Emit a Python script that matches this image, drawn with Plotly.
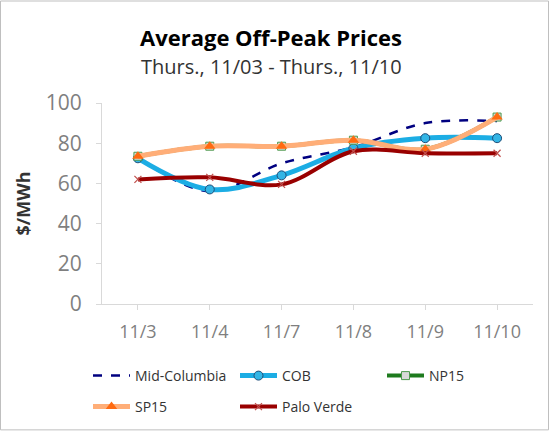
import plotly.graph_objects as go

dates = ["11/3", "11/4", "11/7", "11/8", "11/9", "11/10"]
mid_columbia = [73, 56, 70, 78, 90, 91]
cob = [72.5, 57, 64, 77.5, 82.5, 82.5]
np15 = [73.5, 78.5, 78.5, 81.5, 77, 93]
sp15 = [73.5, 78.5, 78.5, 81.5, 77, 93]
palo_verde = [62, 63, 59.5, 76, 75, 75]
y_ticks = [0, 20, 40, 60, 80, 100]

W, H = 550, 433
ML, MR, MT, MB = 102, 17, 103, 128
PW, PH = W - ML - MR, H - MT - MB

FONT = "Open Sans"


def px_x(x):
    return (x - ML) / PW


def px_y(y):
    return (MT + PH - y) / PH


fig = go.Figure()
fig.add_trace(go.Scatter(x=dates, y=mid_columbia, name="Mid-Columbia", mode="lines", legend="legend",
                         line=dict(color="#000080", width=2.5, dash="dash", shape="spline")))
fig.add_trace(go.Scatter(x=dates, y=cob, name="COB", mode="lines+markers", legend="legend",
                         line=dict(color="#1CADE4", width=5, shape="spline"),
                         marker=dict(symbol="circle", size=9, color="#33B5E5",
                                     line=dict(color="#1F4E79", width=1))))
fig.add_trace(go.Scatter(x=dates, y=np15, name="NP15", mode="lines+markers", legend="legend",
                         line=dict(color="#1E7B1E", width=4, shape="spline"),
                         marker=dict(symbol="square", size=8, color="#D9D9D9",
                                     line=dict(color="#4E9A4E", width=1))))
fig.add_trace(go.Scatter(x=dates, y=sp15, name="SP15", mode="lines+markers", legend="legend2",
                         line=dict(color="#FFAE78", width=5, shape="spline"),
                         marker=dict(symbol="triangle-up", size=10, color="#FF6A10")))
fig.add_trace(go.Scatter(x=dates, y=palo_verde, name="Palo Verde", mode="lines+markers", legend="legend2",
                         line=dict(color="#990000", width=4, shape="spline"),
                         marker=dict(symbol="x-thin", size=7, color="#990000",
                                     line=dict(color="#C0504D", width=1.2))))

legend_common = dict(
    orientation="h", xanchor="left", yanchor="middle",
    font=dict(family=FONT, size=14, color="#333333"),
    entrywidth=95, entrywidthmode="pixels", itemwidth=37,
    traceorder="normal", bgcolor="rgba(0,0,0,0)",
)

fig.update_layout(
    width=W, height=H,
    margin=dict(l=ML, r=MR, t=MT, b=MB),
    paper_bgcolor="white", plot_bgcolor="white",
    font=dict(family=FONT, color="#333333"),
    xaxis=dict(
        type="category", range=[-0.5, 5.5],
        showline=True, linecolor="#D9D9D9", linewidth=1,
        ticks="outside", ticklen=5, tickcolor="#D9D9D9",
        ticklabelstandoff=6,
        showgrid=False, zeroline=False,
        tickfont=dict(family=FONT, size=18, color="#7F7F7F"),
    ),
    yaxis=dict(
        range=[0, 100], tickvals=y_ticks,
        showline=True, linecolor="#D9D9D9", linewidth=1,
        ticks="outside", ticklen=5, tickcolor="#D9D9D9",
        ticklabelstandoff=10,
        showgrid=False, zeroline=False,
        tickfont=dict(family=FONT, size=21, color="#7F7F7F"),
        title=dict(text="<b>$/MWh</b>", font=dict(family=FONT, size=18, color="#333333"), standoff=10),
    ),
    legend=dict(x=px_x(88), y=px_y(376), **legend_common),
    legend2=dict(x=px_x(88), y=px_y(407), **legend_common),
    showlegend=True,
)

fig.add_annotation(text="<b>Average Off-Peak Prices</b>", xref="paper", yref="paper",
                   x=px_x(271), y=px_y(37), xanchor="center", yanchor="middle", showarrow=False,
                   font=dict(family=FONT, size=22, color="#000000"))
fig.add_annotation(text="Thurs., 11/03 - Thurs., 11/10", xref="paper", yref="paper",
                   x=px_x(271), y=px_y(66), xanchor="center", yanchor="middle", showarrow=False,
                   font=dict(family=FONT, size=20, color="#333333"))

fig.add_shape(type="rect", xref="paper", yref="paper",
              x0=px_x(0.5), x1=px_x(W - 1.5),
              y0=px_y(H - 1.5), y1=px_y(0.5),
              line=dict(color="#BFBFBF", width=1), fillcolor="rgba(0,0,0,0)", layer="below")

fig.write_html("out.html")
